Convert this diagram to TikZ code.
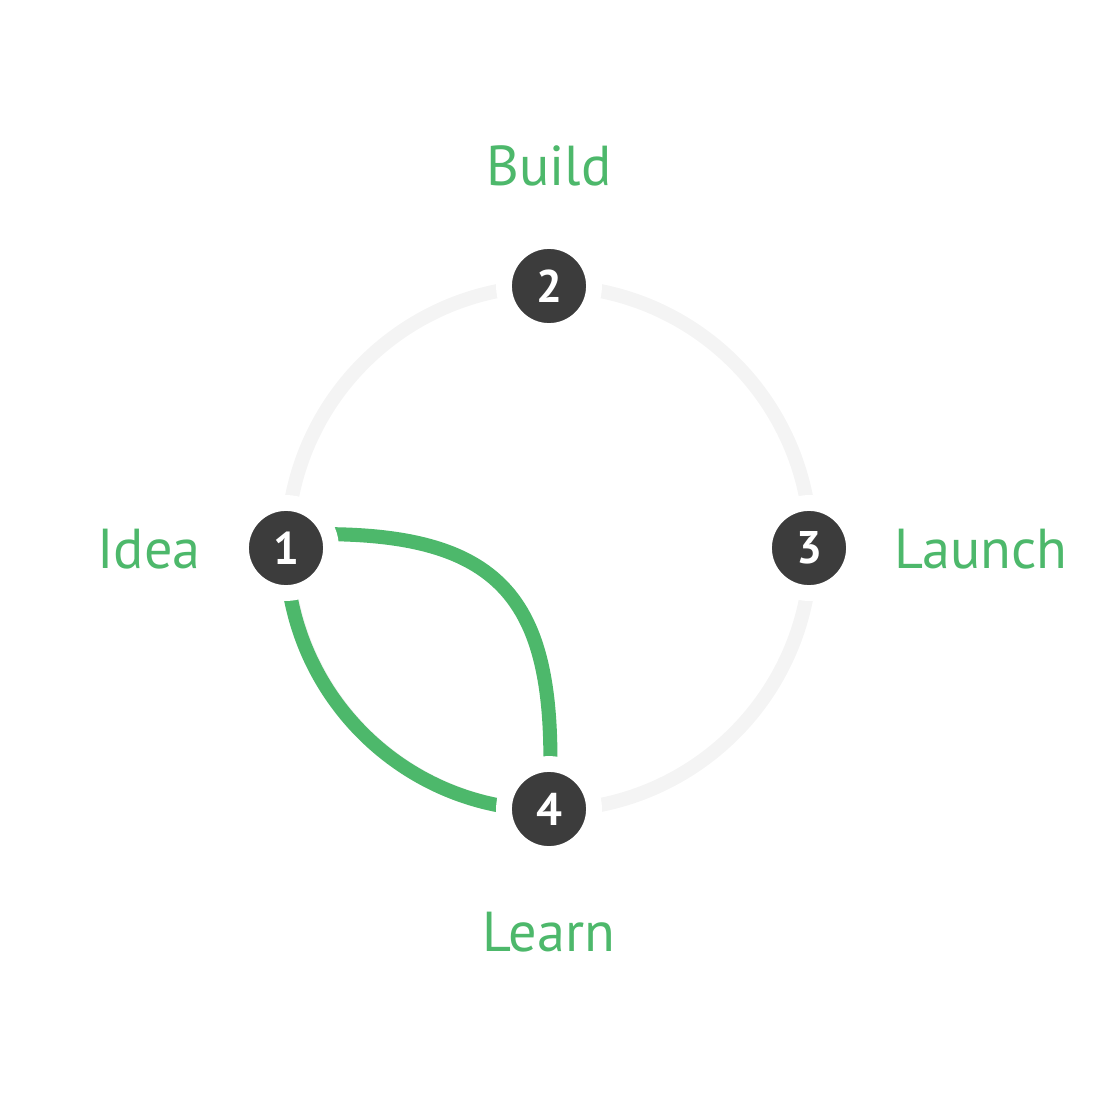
\documentclass[tikz,border=0pt]{standalone}
\usepackage{fontspec}
\setmainfont{PT Sans}
\definecolor{gr}{HTML}{4DB86B}
\definecolor{ring}{HTML}{F4F4F4}
\definecolor{dk}{HTML}{3C3C3C}
\begin{document}
\begin{tikzpicture}[x=0.01cm,y=-0.01cm,
  stepnode/.style={circle,fill=dk,draw=white,line width=4.5pt,minimum size=0.9cm,inner sep=0pt,text=white,font=\bfseries\fontsize{13}{13}\selectfont},
  lab/.style={text=gr,font=\fontsize{16}{16}\selectfont},
  arc/.style={line width=4pt}]
\useasboundingbox (0,0) rectangle (1100,1100);
\coordinate (c) at (549,548);
\draw[ring,arc] (c) circle[radius=262];
\draw[gr,arc] (286,548) arc[start angle=180,end angle=90,radius=262];
\draw[gr,arc] (286,535) .. controls (510,525) and (560,600) .. (549,809);
\node[stepnode] (n2) at (549,286) {2};
\node[stepnode] (n1) at (286,548) {1};
\node[stepnode] (n3) at (809,548) {3};
\node[stepnode] (n4) at (549,809) {4};
\node[lab] (b) at (549,166) {Build};
\node[lab] (i) at (149,549) {Idea};
\node[lab] (l) at (981,549) {Launch};
\node[lab] (le) at (549,932) {Learn};
\end{tikzpicture}
\end{document}
